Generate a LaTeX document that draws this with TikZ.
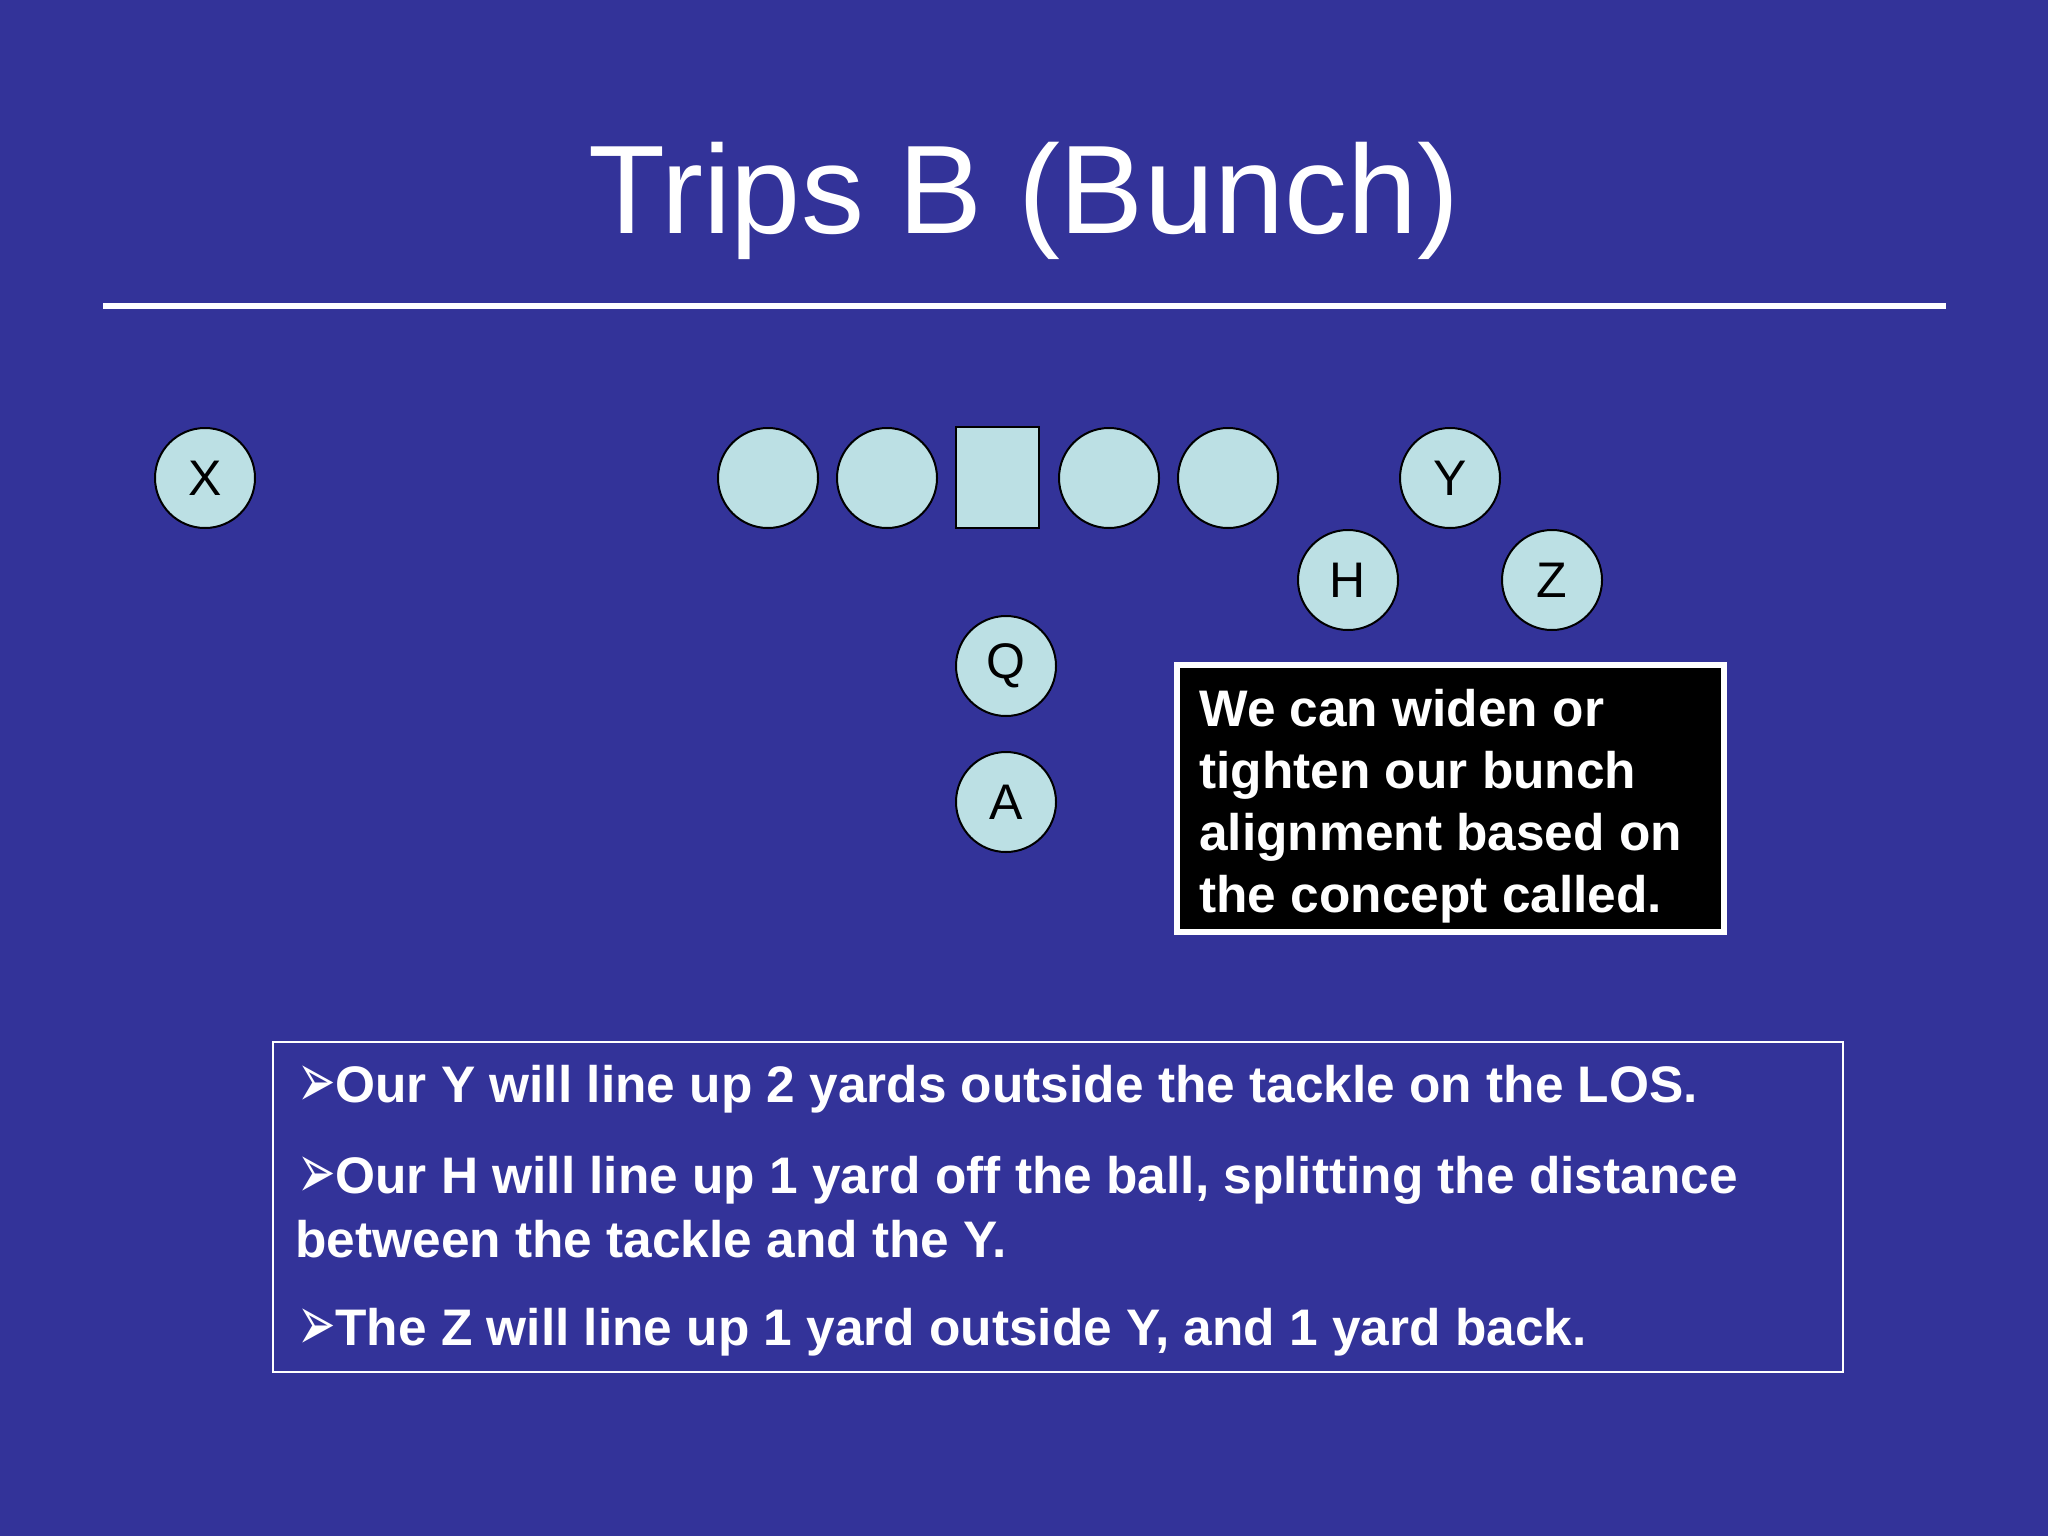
\documentclass[tikz,border=0pt]{standalone}
\usepackage{fontspec}
\setmainfont{Liberation Sans}
\newfontfamily\dejavu{DejaVu Sans}
\usepackage{xcolor}
\usepackage{graphicx}
\usetikzlibrary{positioning}
\definecolor{slideblue}{HTML}{333399}
\definecolor{playerfill}{RGB}{188,224,228}
\newcommand\arrowbullet{\makebox[19pt][l]{\raisebox{-2.5pt}{\dejavu\fontsize{23}{25}\selectfont\scalebox{1}[1.7]{➢}}}}

\begin{document}
\begin{tikzpicture}[
      x = 0.5pt, y = -0.5pt,
      man node/.style = {circle, draw, line width=1pt, fill=playerfill,
        minimum size=50pt, inner sep=0pt, font=\fontsize{25}{30}\selectfont},
      ball node/.style = {rectangle, draw, line width=1pt, fill=playerfill,
        minimum width=41.5pt, minimum height=50.5pt, inner sep=0pt},
      line text/.style = {anchor=base west, inner sep=0pt, text=white,
        font=\fontsize{25.7}{30}\selectfont\bfseries}
  ]
  % Background and title
  \fill[slideblue] (0,0) rectangle (2048,1536);
  \node[text=white, anchor=base, inner sep=0pt, font=\fontsize{63}{70}\selectfont]
    (title) at (1024,233) {Trips B (Bunch)};
  \coordinate (rule west) at (103,306);
  \coordinate (rule east) at (1946,306);
  \draw[white, line width=3pt] (rule west) -- (rule east);

  % Define the players
  \node[man node] (X) at (205,478) {X};
  \node[man node] (LT) at (768,478) {};
  \node[man node] (LG) at (887,478) {};
  \node[ball node] (C) at (997.5,477.5) {};
  \node[man node] (RG) at (1109,478) {};
  \node[man node] (RT) at (1228,478) {};
  \node[man node] (Y) at (1450,478) {Y};
  \node[man node] (H) at (1348,580) {H};
  \node[man node] (Z) at (1552,580) {Z};
  \node[man node] (Q) at (1006,666) {Q};
  \node[man node] (A) at (1006,802) {A};

  % Note box
  \node[draw=white, line width=3pt, fill=black, inner sep=0pt,
    minimum width=273.5pt, minimum height=133.5pt] (note) at (1450.5,798.5) {};
  \node[line text] (note 1) at (1199,726) {We can widen or};
  \node[line text] (note 2) at (1199,788) {tighten our bunch};
  \node[line text] (note 3) at (1199,850) {alignment based on};
  \node[line text] (note 4) at (1199,912) {the concept called.};

  % Bullet box
  \node[draw=white, line width=1pt, inner sep=0pt,
    minimum width=785pt, minimum height=165pt] (rules) at (1058,1207) {};
  \node[line text] (rule 1) at (297,1102)
    {\arrowbullet Our Y will line up 2 yards outside the tackle on the LOS.};
  \node[line text] (rule 2) at (297,1193)
    {\arrowbullet Our H will line up 1 yard off the ball, splitting the distance};
  \node[line text] (rule 2b) at (295,1257) {between the tackle and the Y.};
  \node[line text] (rule 3) at (297,1345)
    {\arrowbullet The Z will line up 1 yard outside Y, and 1 yard back.};
\end{tikzpicture}
\end{document}
